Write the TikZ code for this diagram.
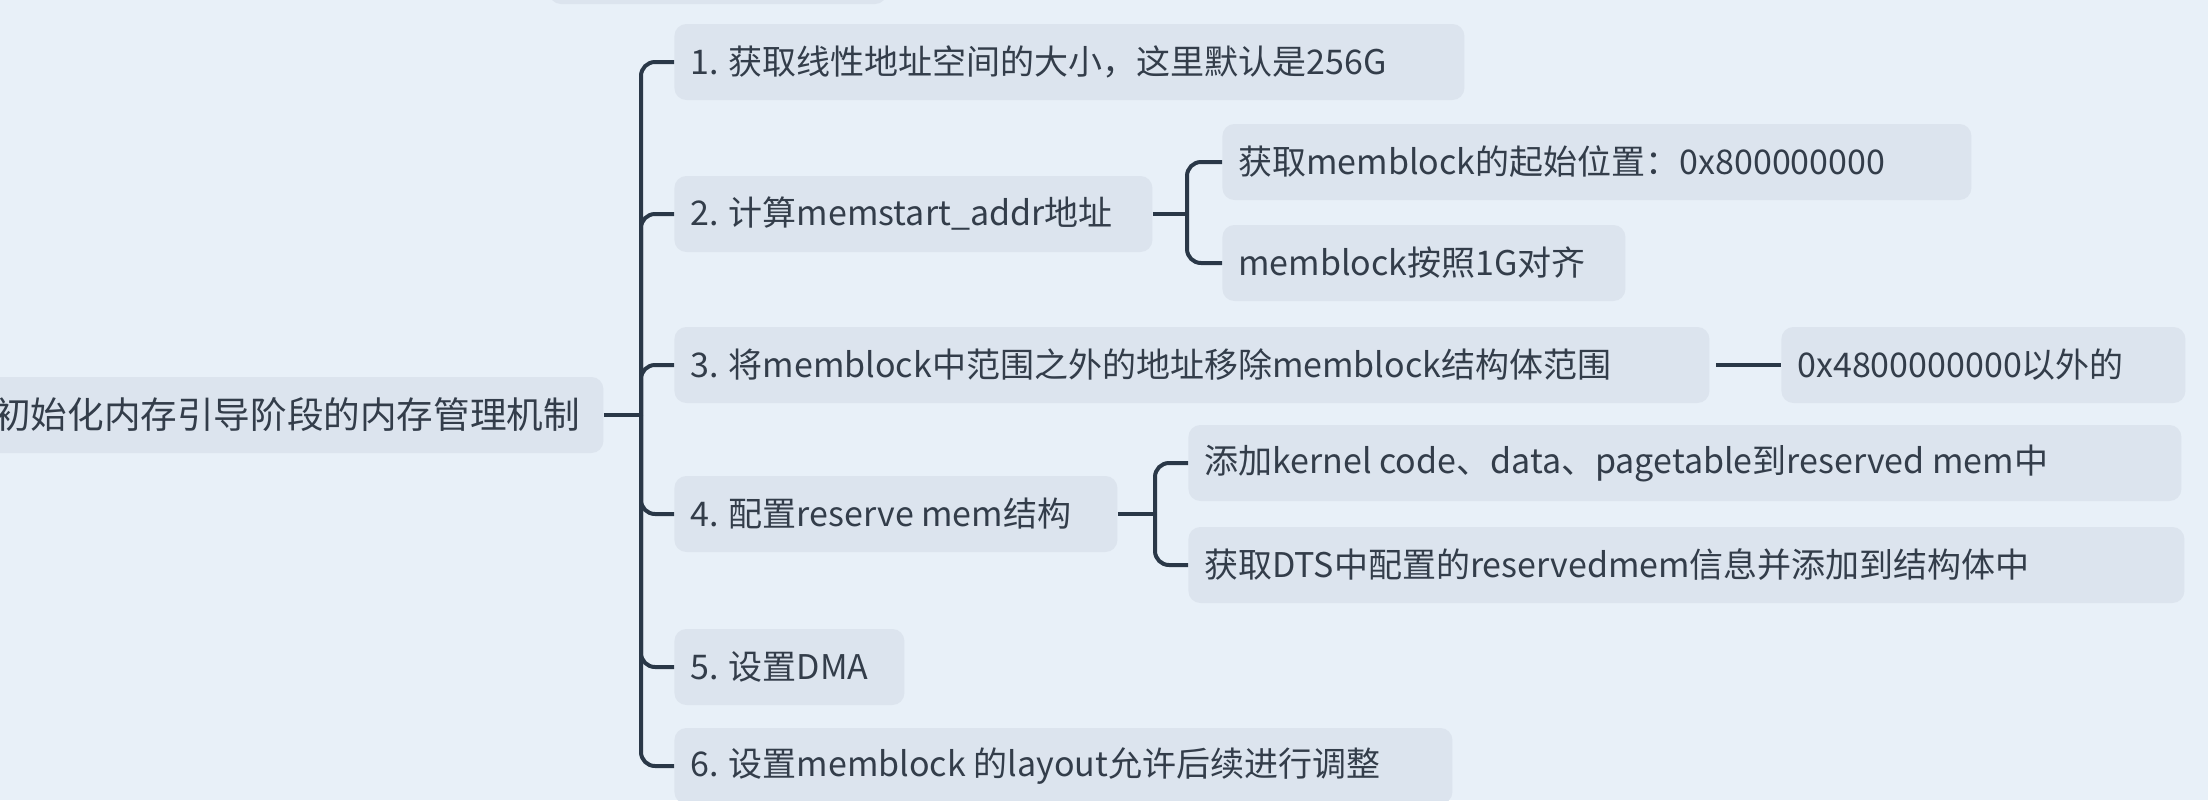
\documentclass[tikz,border=0pt]{standalone}
\usepackage{fontspec}
\setmainfont{Noto Sans CJK SC}
\begin{document}
\begin{tikzpicture}[x=0.5pt,y=-0.5pt,
  box/.style={fill=boxc, rounded corners=6pt, anchor=west, minimum height=38pt, inner sep=0pt, text=txtc, font=\fontsize{17}{20}\selectfont},
  conn/.style={draw=linec, line width=2pt, rounded corners=7pt}]
\definecolor{bgc}{HTML}{E8F0F8}
\definecolor{boxc}{HTML}{DCE4EE}
\definecolor{linec}{HTML}{2A3848}
\definecolor{txtc}{HTML}{333D4A}
\fill[bgc] (0,0) rectangle (2208,800);
\useasboundingbox (0,0) rectangle (2208,800);
\fill[boxc, rounded corners=6pt] (549,-30) rectangle (887,4);
\newcommand{\bx}[6]{\node[box, minimum width=\dimexpr#4pt/2\relax] (#1) at (#2,#3) {\makebox[\dimexpr#4pt/2\relax][l]{\hspace{\dimexpr#5pt/2\relax}#6}};}
\bx{root}{-20}{415}{623}{14}{\fontsize{18.3}{20}\selectfont 初始化内存引导阶段的内存管理机制}
\bx{i1}{674}{62}{790}{16}{1. 获取线性地址空间的大小，这里默认是256G}
\bx{i2}{674}{214}{478}{16}{2. 计算memstart\_addr地址}
\bx{i3}{674}{365}{1035}{16}{3. 将memblock中范围之外的地址移除memblock结构体范围}
\bx{i4}{674}{514}{443}{16}{4. 配置reserve mem结构}
\bx{i5}{674}{667}{230}{16}{5. 设置DMA}
\bx{i6}{674}{766}{778}{16}{6. 设置memblock 的layout允许后续进行调整}
\bx{a1}{1222}{162}{749}{16}{获取memblock的起始位置：0x800000000}
\bx{a2}{1222}{263}{403}{16}{memblock按照1G对齐}
\bx{b1}{1781}{365}{404}{16}{0x4800000000以外的}
\bx{c1}{1188}{463}{993}{16}{添加kernel code、data、pagetable到reserved mem中}
\bx{c2}{1188}{565}{996}{16}{获取DTS中配置的reservedmem信息并添加到结构体中}
\coordinate (t) at (641,415);
\draw[conn] (root.east) -- (t);
\foreach \n in {i1,i2,i3,i4,i5,i6} \draw[conn] (t) |- (\n.west);
\coordinate (t2) at (1187,214);
\draw[conn] (i2.east) -- (t2);
\foreach \n in {a1,a2} \draw[conn] (t2) |- (\n.west);
\draw[conn] (i3.east) ++(6,0) -- (b1.west);
\coordinate (t4) at (1155,514);
\draw[conn] (i4.east) -- (t4);
\foreach \n in {c1,c2} \draw[conn] (t4) |- (\n.west);
\end{tikzpicture}
\end{document}
